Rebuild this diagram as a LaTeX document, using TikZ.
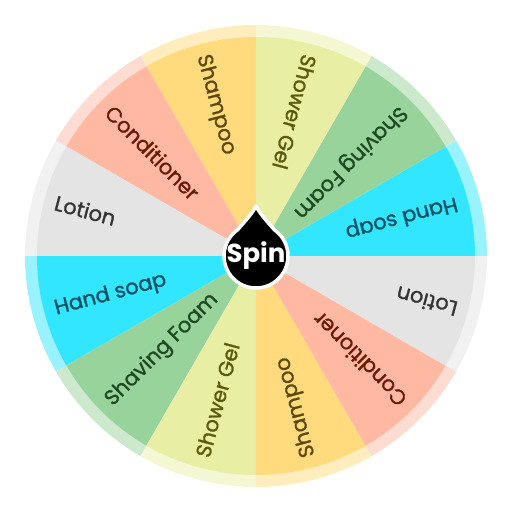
\documentclass[tikz,border=0pt]{standalone}
\usepackage{fontspec}
\setmainfont{Poppins}
\newfontfamily\wheelfont{Poppins}[FakeBold=1.2]
\definecolor{sgf}{HTML}{E9EEA5}\definecolor{sgr}{HTML}{F4F7D2}\definecolor{sgt}{HTML}{5A5A0C}
\definecolor{sff}{HTML}{99D39C}\definecolor{sfr}{HTML}{CCE9CD}\definecolor{sft}{HTML}{1E4A22}
\definecolor{hsf}{HTML}{33E6FF}\definecolor{hsr}{HTML}{99F2FF}\definecolor{hst}{HTML}{0A5260}
\definecolor{lof}{HTML}{E4E4E4}\definecolor{lor}{HTML}{F1F1F1}\definecolor{lot}{HTML}{333333}
\definecolor{cof}{HTML}{FFB9A3}\definecolor{cor}{HTML}{FFDCD1}\definecolor{cot}{HTML}{6B1A05}
\definecolor{shf}{HTML}{FFDB7E}\definecolor{shr}{HTML}{FFEDBE}\definecolor{sht}{HTML}{5C480A}
\tikzset{lbl/.style={inner sep=0pt, font=\wheelfont\fontsize{21}{23}\selectfont}}
\begin{document}
\begin{tikzpicture}[x=1pt,y=1pt]
\useasboundingbox (-256,-256) rectangle (256,256);
\foreach \a/\lab/\pre in {0/Hand soap/hs,30/Shaving Foam/sf,60/Shower Gel/sg,90/Shampoo/sh,120/Conditioner/co,150/Lotion/lo,180/Hand soap/hs,210/Shaving Foam/sf,240/Shower Gel/sg,270/Shampoo/sh,300/Conditioner/co,330/Lotion/lo}{
  \fill[\pre r] (0,0) -- (\a:231) arc[start angle=\a, end angle=\a+30, radius=231] -- cycle;
  \fill[\pre f] (0,0) -- (\a:219) arc[start angle=\a, end angle=\a+30, radius=219] -- cycle;
  \pgfmathsetmacro{\m}{\a+15}
  \pgfmathsetmacro{\r}{\a+195}
  \node[lbl, text=\pre t, rotate=\r, anchor=west] (t\a) at (\m:208) {\lab};
}
\coordinate (tip) at (0,50);
\path[fill=black, draw=white, line width=3.5pt, line join=round]
  (tip) .. controls (4,42) and (10,36) .. (55:32)
  arc[start angle=55, end angle=-235, radius=32]
  .. controls (-10,36) and (-4,42) .. (tip) -- cycle;
\node[text=white, font=\bfseries\fontsize{26}{28}\selectfont, inner sep=0pt] (spin) at (0,0) {Spin};
\end{tikzpicture}
\end{document}
